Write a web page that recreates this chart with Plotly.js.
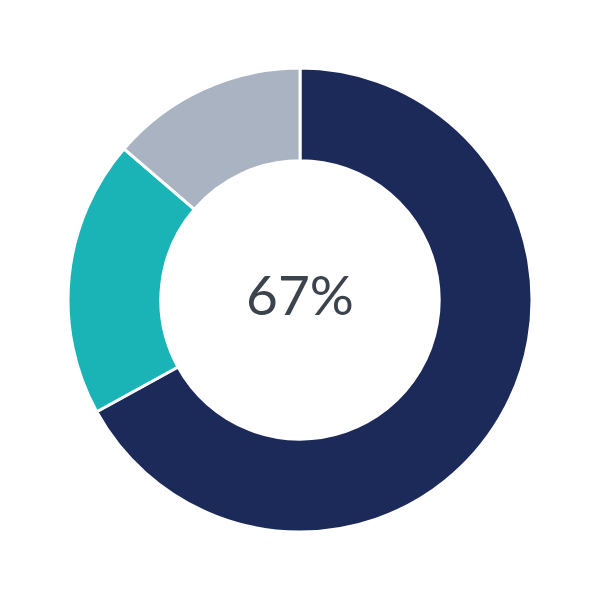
<!DOCTYPE html>
<html>
<head>
<meta charset="utf-8">
<script src="https://cdn.plot.ly/plotly-3.0.1.min.js"></script>
<style>
  html, body { margin: 0; padding: 0; background: #fff; }
  #chart { width: 600px; height: 600px; }
</style>
</head>
<body>
<div id="chart"></div>
<script>
var labels = ['A', 'B', 'C']
var values = [67, 19.3, 13.7]
var colors = ['#1c2a5a', '#1ab3b6', '#a9b3c2']
var centerLabel = '67%'

var trace = {
    type: 'pie',
    labels: labels,
    values: values,
    hole: 0.6,
    sort: false,
    direction: 'clockwise',
    rotation: 0,
    textinfo: 'none',
    hoverinfo: 'none',
    marker: {
        colors: colors,
        line: { color: '#ffffff', width: 3 }
    }
}

var layout = {
    width: 600,
    height: 600,
    margin: { l: 68, r: 68, t: 68, b: 68 },
    showlegend: false,
    paper_bgcolor: '#ffffff',
    annotations: [{
        text: centerLabel,
        x: 0.5, y: 0.514,
        xref: 'paper', yref: 'paper',
        showarrow: false,
        font: { family: 'Lato, sans-serif', size: 55, color: '#3b434d' }
    }]
}

Plotly.newPlot('chart', [trace], layout, { staticPlot: true })
</script>
</body>
</html>
